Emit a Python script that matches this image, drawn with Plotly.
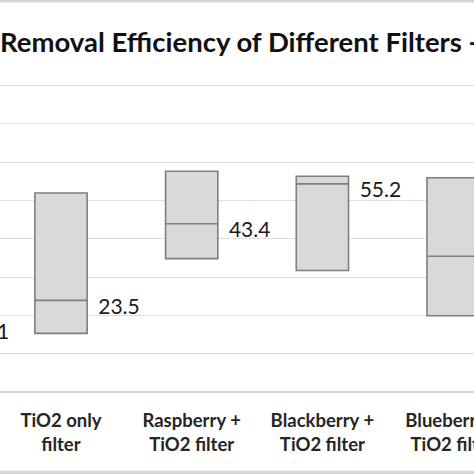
import plotly.graph_objects as go

# ---- data ----
categories = ["Control filter", "TiO2 only<br>filter", "Raspberry +<br>TiO2 filter",
              "Blackberry +<br>TiO2 filter", "Blueberry +<br>TiO2 filter"]
positions = [0, 1, 2, 3, 4]
q1 = [9.0, 15.3, 34.8, 31.7, 19.9]
median = [17.3, 23.9, 43.9, 54.3, 35.4]
q3 = [30.0, 51.9, 57.6, 56.3, 55.9]
median_labels = ["17.1", "23.5", "43.4", "55.2", "35.5"]
title_text = "Removal Efficiency of Different Filters -"

W, H = 474, 474
M_T, M_B = 70, 82
plot_h = H - M_T - M_B

fig = go.Figure()

fig.add_trace(go.Box(
    x=positions, q1=q1, median=median, q3=q3,
    lowerfence=q1, upperfence=q3,
    width=0.4, whiskerwidth=0,
    fillcolor="#d9d9d9",
    line=dict(color="#7f7f7f", width=1.6),
    boxpoints=False, hoverinfo="skip", showlegend=False,
))

fig.add_trace(go.Scatter(
    x=[p + 0.285 for p in positions],
    y=[m - 2.1 for m in median],
    mode="text", text=median_labels, textposition="middle right",
    textfont=dict(family="Lato", size=21, color="#1a1a1a"),
    cliponaxis=True, hoverinfo="skip", showlegend=False,
))

# grey frame edges of the original figure (top and bottom bands)
def py(pix):
    return 1 - (pix - M_T) / plot_h

fig.add_shape(type="rect", xref="paper", yref="paper", x0=-0.1, x1=1.1,
              y0=py(2.6), y1=py(-2), fillcolor="#d6d6d6", line_width=0, layer="above")
fig.add_shape(type="rect", xref="paper", yref="paper", x0=-0.1, x1=1.1,
              y0=py(476), y1=py(470.8), fillcolor="#d6d6d6", line_width=0, layer="above")

fig.add_annotation(
    text="<b>" + title_text + "</b>", xref="paper", yref="paper",
    x=-0.004, xanchor="left", y=py(41.5), yanchor="middle",
    showarrow=False, font=dict(family="Lato", size=27.5, color="#111111"),
)

fig.update_layout(
    width=W, height=H,
    margin=dict(l=0, r=0, t=M_T, b=M_B, autoexpand=False),
    paper_bgcolor="white", plot_bgcolor="white",
    xaxis=dict(
        range=[0.5333, 4.160],
        tickvals=positions, ticktext=["<b>" + c + "</b>" for c in categories],
        tickfont=dict(family="Lato", size=18.5, color="#262626"),
        showgrid=False, zeroline=False, showline=False,
        ticks="", ticklabelstandoff=15, ticklabeloverflow="allow",
        automargin=False,
    ),
    yaxis=dict(
        range=[0, plot_h / 3.833],
        dtick=10, showticklabels=False,
        showgrid=True, gridcolor="#dedede", gridwidth=1.3,
        zeroline=True, zerolinecolor="#d6d6d6", zerolinewidth=1.5,
        showline=False, automargin=False,
    ),
)

fig.write_html("out.html")
